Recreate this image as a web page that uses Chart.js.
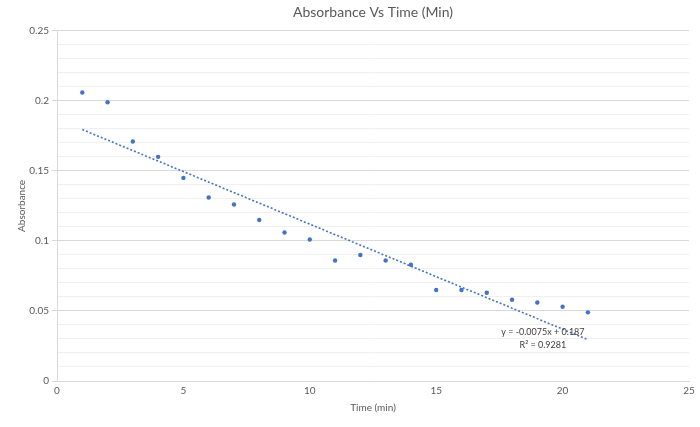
<!DOCTYPE html>
<html>
<head>
<meta charset="utf-8">
<script src="https://cdn.jsdelivr.net/npm/chart.js@4.4.0/dist/chart.umd.min.js"></script>
<style>
html,body{margin:0;padding:0;background:#fff;}
#wrap{width:700px;height:427px;position:relative;}
</style>
</head>
<body>
<div id="wrap"><canvas id="c"></canvas></div>
<script>
// Data
const timeMin = [1,2,3,4,5,6,7,8,9,10,11,12,13,14,15,16,17,18,19,20,21];
const absorbance = [0.206,0.199,0.171,0.160,0.145,0.131,0.126,0.115,0.106,0.101,0.086,0.090,0.086,0.083,0.065,0.065,0.063,0.058,0.056,0.053,0.049];
const trendSlope = -0.0075;
const trendIntercept = 0.187;
const trendLabel = ["y = -0.0075x + 0.187", "R\u00b2 = 0.9281"];
const trendLabelPos = {x: 19.22, y: 0.035};
const titleText = "Absorbance Vs Time (Min)";
const xTitle = "Time (min)";
const yTitle = "Absorbance";

const FONT = "Lato, 'Open Sans', sans-serif";
const TEXT = "#595959";
const BLUE = "#4472C4";

const points = timeMin.map((t,i)=>({x:t, y:absorbance[i]}));
const xStart = timeMin[0], xEnd = timeMin[timeMin.length-1];
const trend = [xStart, xEnd].map(t=>({x:t, y:trendSlope*t+trendIntercept}));

const isMajor = v => Math.abs(v*20 - Math.round(v*20)) < 1e-6;

const labelPlugin = {
  id:'trendLabel',
  afterDatasetsDraw(chart){
    const {ctx, scales:{x,y}} = chart;
    ctx.save();
    ctx.font = "9px " + FONT;
    ctx.fillStyle = "#404040";
    ctx.textAlign = "center";
    ctx.textBaseline = "middle";
    const px = x.getPixelForValue(trendLabelPos.x);
    const py = y.getPixelForValue(trendLabelPos.y);
    ctx.fillText(trendLabel[0], px, py);
    ctx.fillText(trendLabel[1], px, py + 13);
    ctx.restore();
  }
};

new Chart(document.getElementById('c'), {
  type:'scatter',
  data:{
    datasets:[
      {label:'Absorbance', data:points, backgroundColor:BLUE, borderColor:BLUE, pointRadius:2.2, pointHoverRadius:2.2, borderWidth:0},
      {label:'Trend', type:'line', data:trend, borderColor:BLUE, borderWidth:1.6, borderDash:[2,2], pointRadius:0, fill:false}
    ]
  },
  options:{
    responsive:true,
    maintainAspectRatio:false,
    animation:false,
    layout:{padding:{left:0,right:11,top:0,bottom:0}},
    plugins:{
      legend:{display:false},
      tooltip:{enabled:false},
      title:{display:true, text:titleText, fullSize:false, color:TEXT,
        font:{family:FONT, size:14, weight:'normal', lineHeight:1.2},
        padding:{top:4,bottom:10}}
    },
    scales:{
      x:{
        type:'linear', min:0, max:25,
        ticks:{stepSize:5, color:TEXT, font:{family:FONT,size:10}, padding:4},
        grid:{display:false, drawTicks:false},
        border:{display:true, color:'#d9d9d9', width:1},
        title:{display:true, text:xTitle, color:TEXT, font:{family:FONT,size:10}, padding:13},
        afterFit(s){ s.height = 46; }
      },
      y:{
        type:'linear', min:0, max:0.25,
        ticks:{stepSize:0.01, autoSkip:false, color:TEXT, font:{family:FONT,size:10}, padding:3,
          callback(v){ return isMajor(v) ? String(Math.round(v*100)/100) : ''; }},
        grid:{
          color:c=> isMajor(c.tick.value) ? '#d9d9d9' : '#f0f0f0',
          tickColor:c=> isMajor(c.tick.value) ? '#d9d9d9' : 'rgba(0,0,0,0)',
          tickLength:5, lineWidth:1
        },
        border:{display:true, color:'#d9d9d9', width:1},
        title:{display:true, text:yTitle, color:TEXT, font:{family:FONT,size:10}, padding:16},
        afterFit(s){ s.width = 57; }
      }
    }
  },
  plugins:[labelPlugin]
});
</script>
</body>
</html>
